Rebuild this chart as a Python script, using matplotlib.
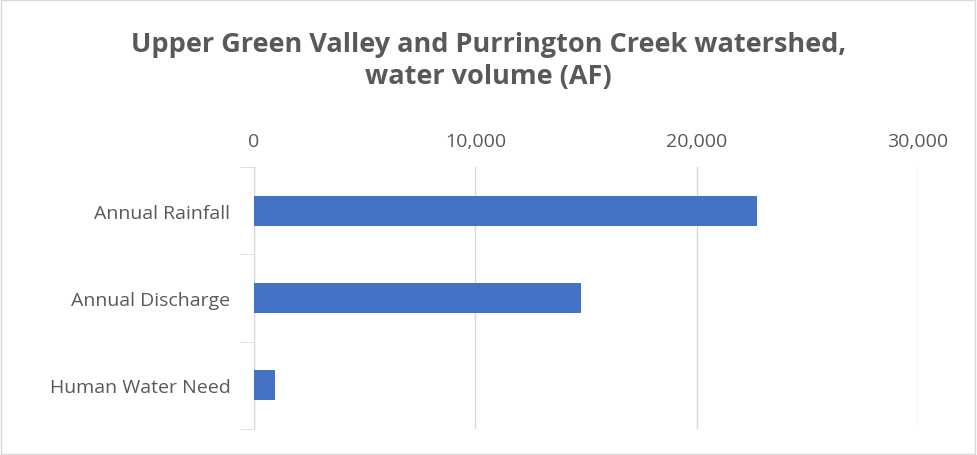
import matplotlib.pyplot as plt
import numpy as np

categories = ['Annual Rainfall', 'Annual Discharge', 'Human Water Need']
volumes = [22730, 14780, 950]
xticks = [0, 10000, 20000, 30000]

plt.rcParams['font.family'] = ['Open Sans', 'DejaVu Sans']
txt = '#595959'

fig = plt.figure(figsize=(9.77, 4.56), dpi=100)
ax = fig.add_axes([254 / 977, 1 - 430 / 456, (918 - 254) / 977, (430 - 168) / 456])

y = np.arange(len(categories))
ax.barh(y, volumes, height=0.34, color='#4472C4', zorder=3)
ax.set_ylim(len(categories) - 0.5, -0.5)
ax.set_xlim(0, 30000)
ax.set_yticks(y)
ax.set_yticklabels(categories, fontsize=14, color=txt)
ax.set_yticks([-0.5, 0.5, 1.5, 2.5], minor=True)
ax.tick_params(axis='y', which='major', length=0, pad=17)
ax.tick_params(axis='y', which='minor', length=10, color='#d9d9d9')

ax.xaxis.tick_top()
ax.set_xticks(xticks)
ax.set_xticklabels([f'{v:,}' for v in xticks], fontsize=14, color=txt)
ax.tick_params(axis='x', length=0, pad=12)
ax.grid(axis='x', color='#d9d9d9', linewidth=1, zorder=0)

for s in ['top', 'right', 'bottom']:
    ax.spines[s].set_visible(False)
ax.spines['left'].set_color('#d9d9d9')

fig.text(0.5, 1 - 61 / 456, 'Upper Green Valley and Purrington Creek watershed,\nwater volume (AF)',
         ha='center', va='center', fontsize=19.5, fontweight='bold', color=txt, linespacing=1.3)

fig.patches.append(plt.Rectangle((0.001, 0.002), 0.997, 0.995, transform=fig.transFigure,
                                 fill=False, edgecolor='#d9d9d9', linewidth=1))

fig.savefig('out.png', dpi=100)
